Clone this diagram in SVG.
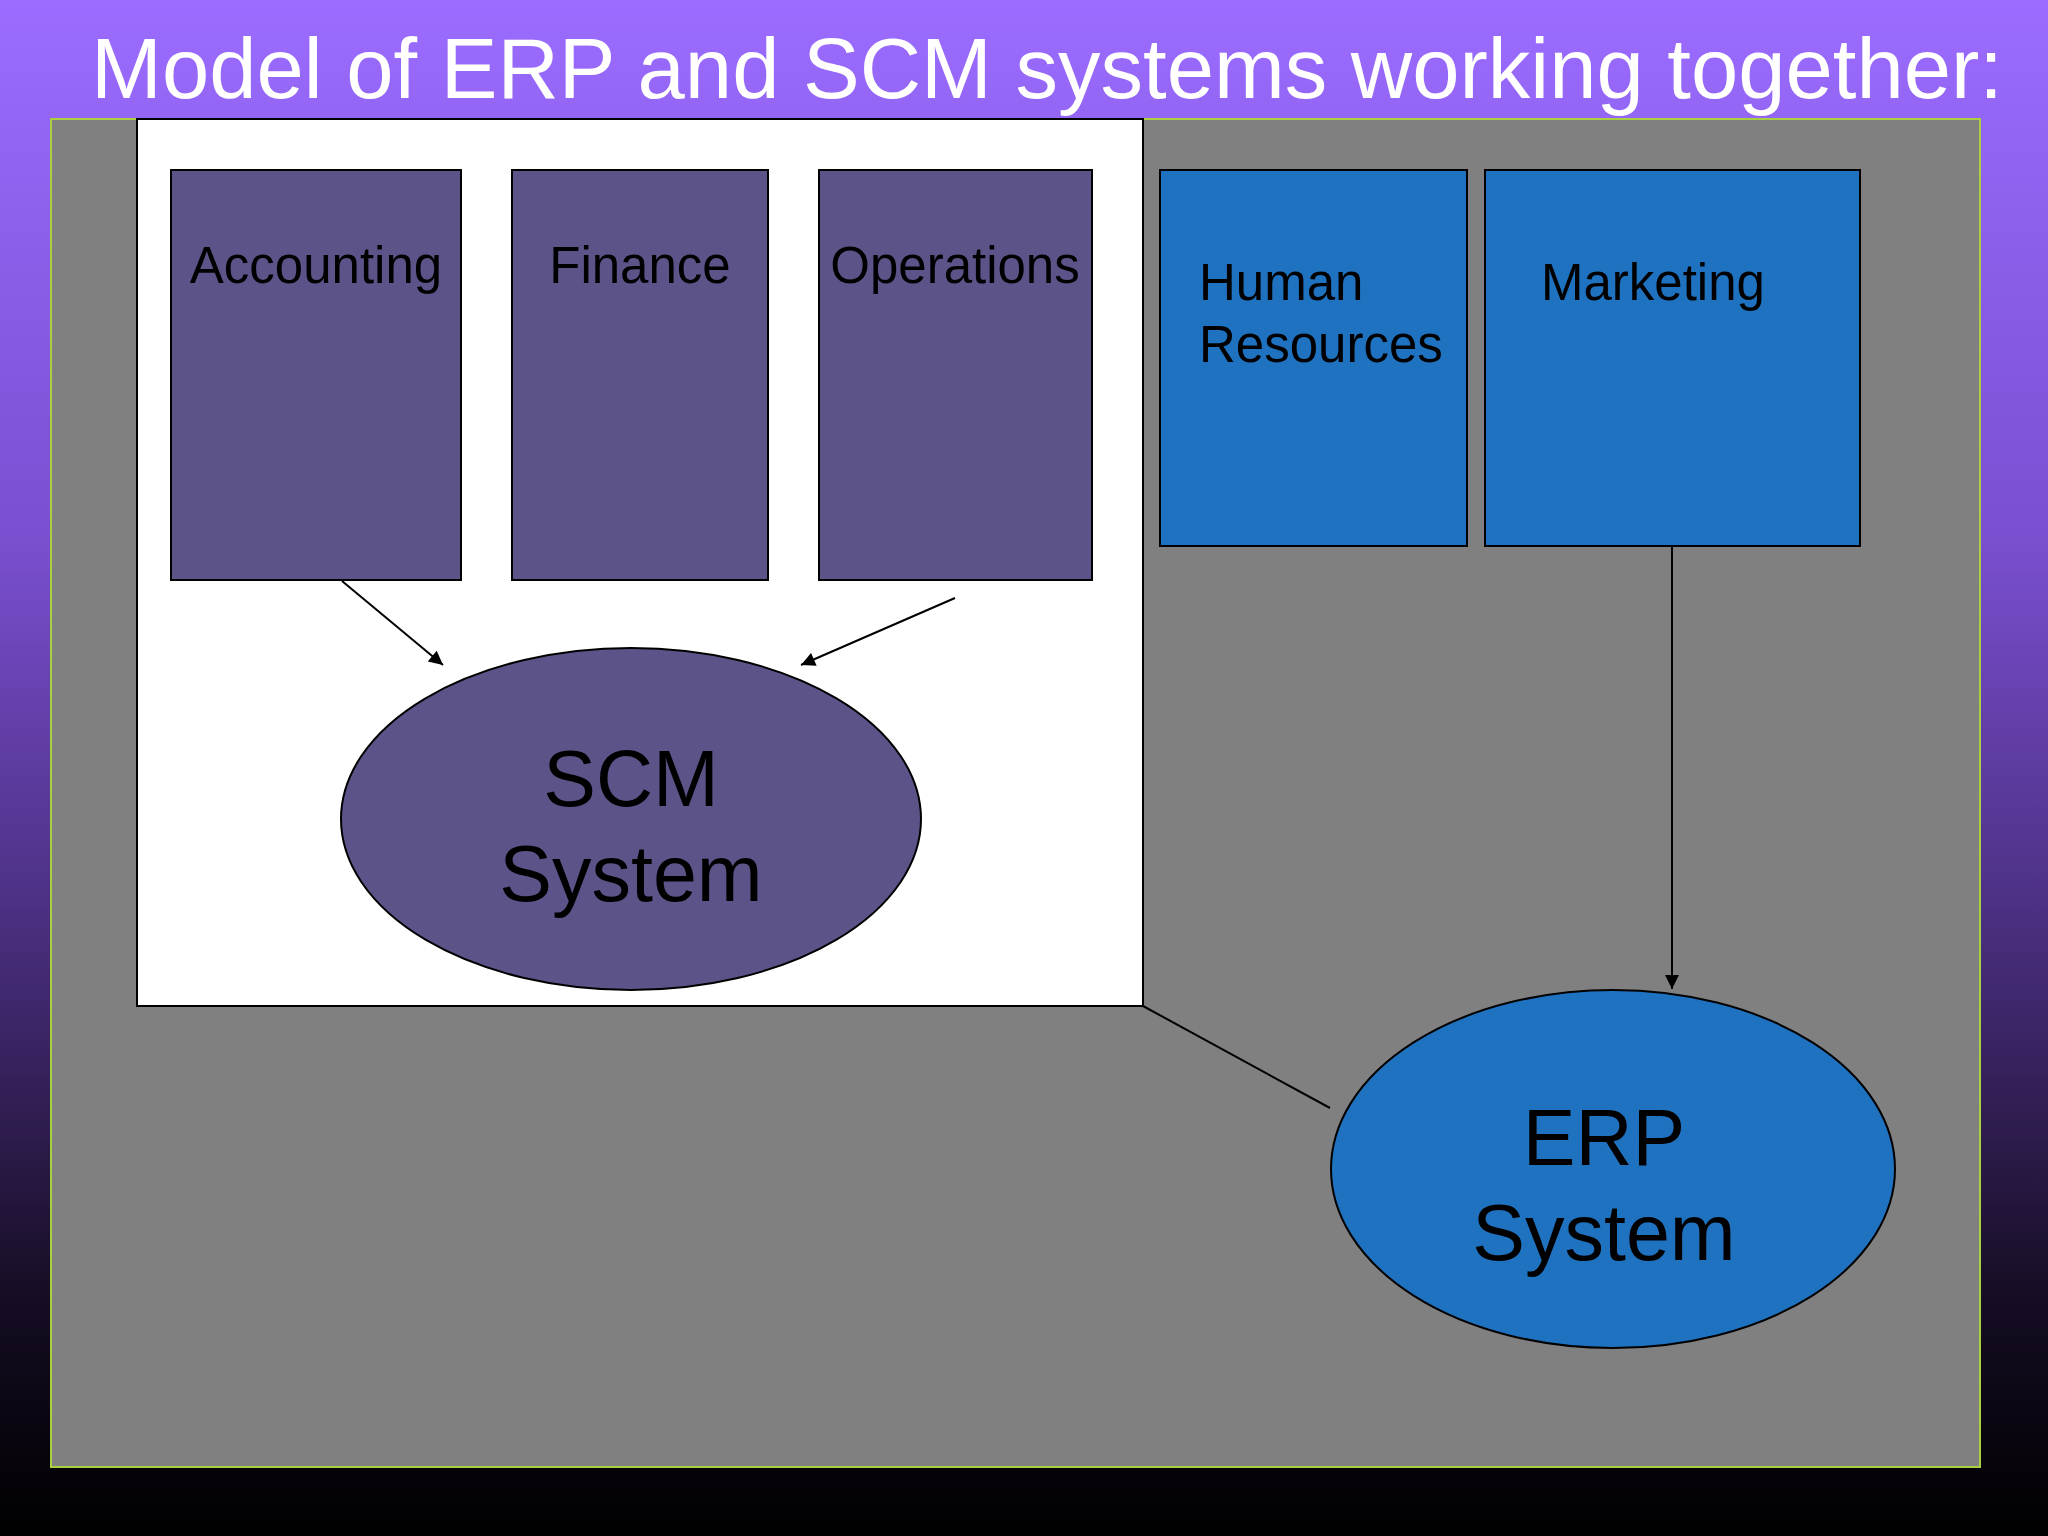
<svg xmlns="http://www.w3.org/2000/svg" width="2048" height="1536" viewBox="0 0 2048 1536">
<defs>
<linearGradient id="bg" x1="0" y1="0" x2="0" y2="1">
<stop offset="0" stop-color="#9b6cff"/><stop offset="0.35" stop-color="#7a4fd0"/><stop offset="0.6" stop-color="#4a2f80"/><stop offset="0.85" stop-color="#150c22"/><stop offset="1" stop-color="#000"/>
</linearGradient>
<marker id="ah" viewBox="0 0 10 10" refX="10" refY="5" markerWidth="16" markerHeight="14" markerUnits="userSpaceOnUse" orient="auto"><path d="M0,0L10,5L0,10z" fill="#000"/></marker>
<style>
.t{font-family:"Liberation Sans",Arial,sans-serif;fill:#000}
.p{fill:#5c5489;stroke:#000;stroke-width:2}
.b{fill:#1f72c0;stroke:#000;stroke-width:2}
.c{stroke:#000;stroke-width:2;fill:none}
</style>
</defs>
<rect width="2048" height="1536" fill="url(#bg)"/>
<text x="1047" y="98" text-anchor="middle" font-family="Liberation Sans,Arial,sans-serif" font-size="85" fill="#fff">Model of ERP and SCM systems working together:</text>
<rect x="51" y="119" width="1929" height="1348" fill="#808080" stroke="#a8d040" stroke-width="2"/>
<rect x="137" y="119" width="1006" height="887" fill="#fff" stroke="#000" stroke-width="2"/>
<g id="accounting"><rect class="p" x="171" y="170" width="290" height="410"/><text class="t" x="316" y="283" font-size="51" text-anchor="middle">Accounting</text></g>
<g id="finance"><rect class="p" x="512" y="170" width="256" height="410"/><text class="t" x="640" y="283" font-size="51" text-anchor="middle">Finance</text></g>
<g id="operations"><rect class="p" x="819" y="170" width="273" height="410"/><text class="t" x="955" y="283" font-size="51" text-anchor="middle">Operations</text></g>
<g id="hr"><rect class="b" x="1160" y="170" width="307" height="376"/><text class="t" x="1199" y="300" font-size="51">Human</text><text class="t" x="1199" y="362" font-size="51">Resources</text></g>
<g id="marketing"><rect class="b" x="1485" y="170" width="375" height="376"/><text class="t" x="1541" y="300" font-size="51">Marketing</text></g>
<g id="scm"><ellipse class="p" cx="631" cy="819" rx="290" ry="171"/><text class="t" x="631" y="806" font-size="79" text-anchor="middle">SCM</text><text class="t" x="631" y="901" font-size="79" text-anchor="middle">System</text></g>
<g id="erp"><ellipse class="b" cx="1613" cy="1169" rx="282" ry="179"/><text class="t" x="1604" y="1165" font-size="79" text-anchor="middle">ERP</text><text class="t" x="1604" y="1260" font-size="79" text-anchor="middle">System</text></g>
<g id="connectors">
<line class="c" x1="342" y1="581" x2="443" y2="665" marker-end="url(#ah)"/>
<line class="c" x1="955" y1="598" x2="801" y2="665" marker-end="url(#ah)"/>
<line class="c" x1="1672" y1="546" x2="1672" y2="989" marker-end="url(#ah)"/>
<line class="c" x1="1143" y1="1006" x2="1330" y2="1108"/>
</g>
</svg>
